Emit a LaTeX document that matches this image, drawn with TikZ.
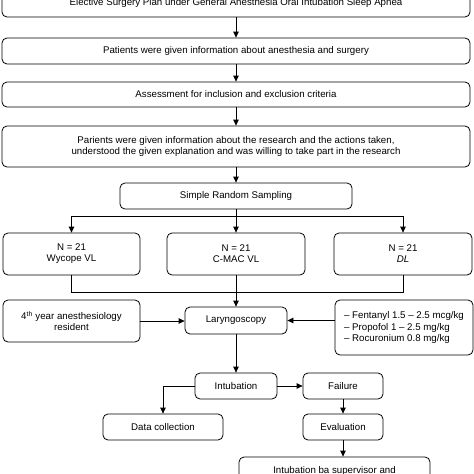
\documentclass[tikz,border=0pt]{standalone}
\usepackage{fontspec}
\setmainfont{Liberation Sans}
\usetikzlibrary{arrows.meta}
\usetikzlibrary{positioning}

\begin{document}
\begin{tikzpicture}[x=1pt,y=-1pt,
            box/.style={draw, rounded corners=5pt, line width=0.8pt, align=center,
              inner sep=2pt, font=\fontsize{9.7}{11.2}\selectfont},
            flow/.style={-{Triangle[length=6pt,width=5.5pt]}, line width=0.8pt}]
            \clip (0,0) rectangle (474,474);
            \node[box, minimum width=468pt, minimum height=28pt] (elective) at (236,3)
              {Elective Surgery Plan under General Anesthesia Oral Intubation Sleep Apnea};
            \node[box, minimum width=468pt, minimum height=26pt] (info) at (236,51)
              {Patients were given information about anesthesia and surgery};
            \node[box, minimum width=468pt, minimum height=25pt] (assess) at (236,94.5)
              {Assessment for inclusion and exclusion criteria};
            \node[box, minimum width=468pt, minimum height=41pt] (research) at (236,146.5)
              {Parients were given information about the research and the actions taken,\\
               understood the given explanation and was willing to take part in the research};
            \node[box, minimum width=232pt, minimum height=26pt] (sampling) at (236,196)
              {Simple Random Sampling};
            \node[box, minimum width=137pt, minimum height=42pt] (wycope) at (71.5,254)
              {N = 21\\ Wycope VL};
            \node[box, minimum width=138pt, minimum height=42pt] (cmac) at (236,254)
              {N = 21\\ C-MAC VL};
            \node[box, minimum width=138pt, minimum height=42pt] (dl) at (403,254)
              {N = 21\\ \textit{DL}};
            \node[box, minimum width=137pt, minimum height=42pt] (resident) at (71.5,321)
              {4\textsuperscript{th} year anesthesiology\\ resident};
            \node[box, minimum width=102pt, minimum height=27pt] (laryngo) at (236,320.5)
              {Laryngoscopy};
            \node[box, minimum width=138pt, minimum height=55pt, align=left] (drugs) at (404,327.5)
              {-- Fentanyl 1.5 -- 2.5 mcg/kg\\ -- Propofol 1 -- 2.5 mg/kg\\ -- Rocuronium 0.8 mg/kg};
            \node[box, minimum width=82pt, minimum height=26pt] (intub) at (236,386)
              {Intubation};
            \node[box, minimum width=80pt, minimum height=26pt] (failure) at (343,386)
              {Failure};
            \node[box, minimum width=120pt, minimum height=26pt] (datacol) at (163,427)
              {Data collection};
            \node[box, minimum width=80pt, minimum height=26pt] (evalu) at (343,427)
              {Evaluation};
            \node[box, minimum width=191pt, minimum height=27pt] (final) at (334.5,470.5)
              {Intubation ba supervisor and};
            \coordinate (merge) at (236,292);
            \draw[flow] (elective) -- (info);
            \draw[flow] (info) -- (assess);
            \draw[flow] (assess) -- (research);
            \draw[flow] (research) -- (sampling);
            \draw[flow] (sampling.south) -- ++(0,7) -| (wycope);
            \draw[flow] (sampling.south) -- ++(0,7) -| (dl);
            \draw[flow] (sampling) -- (cmac);
            \draw[line width=0.8pt] (wycope.south) |- (merge);
            \draw[line width=0.8pt] (dl.south) |- (merge);
            \draw[flow] (cmac) -- (laryngo);
            \draw[flow] (resident.east) -- (resident.east -| laryngo.west);
            \draw[flow] (drugs.west |- laryngo.east) -- (laryngo.east);
            \draw[flow] (laryngo) -- (intub);
            \draw[flow] (intub) -- (failure);
            \draw[flow] (intub.west) -| (datacol.north);
            \draw[flow] (failure) -- (evalu);
            \draw[flow] (evalu) -- (evalu |- final.north);
        \end{tikzpicture}
\end{document}
